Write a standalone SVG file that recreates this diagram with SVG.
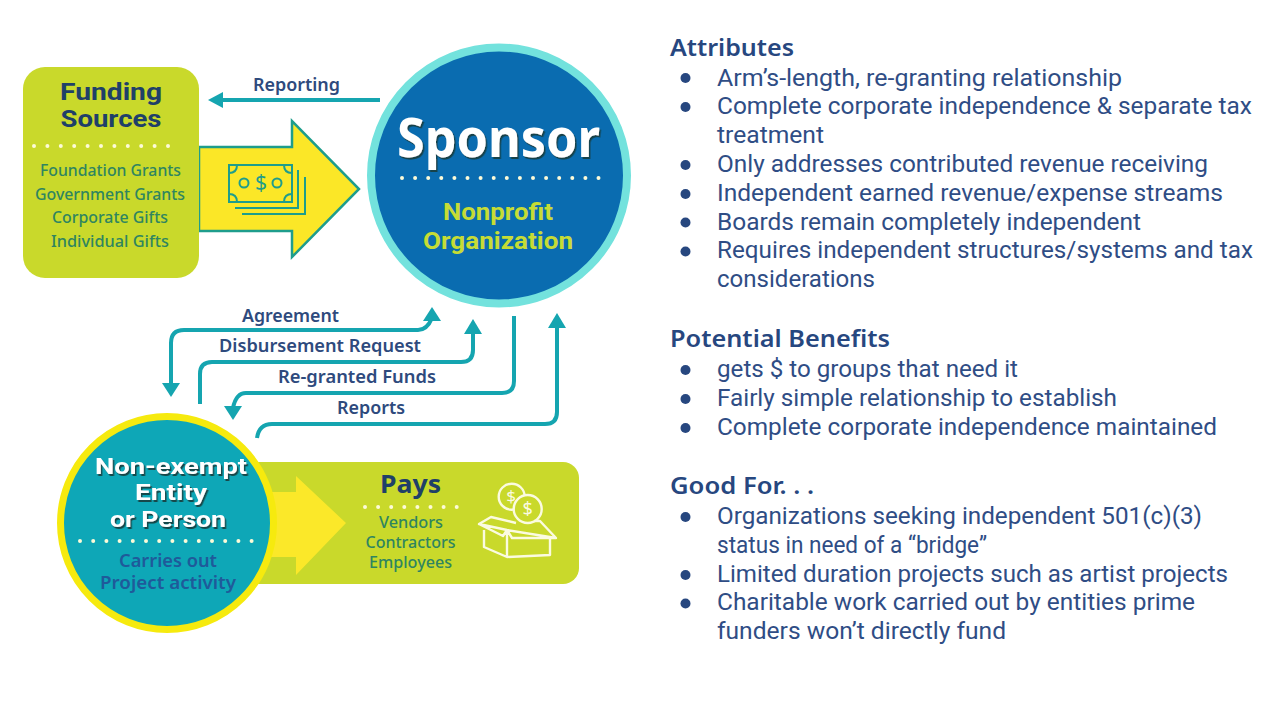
<svg xmlns="http://www.w3.org/2000/svg" width="1280" height="720" viewBox="0 0 1280 720">
<style>
text{font-family:"Noto Sans","Open Sans","Liberation Sans",sans-serif}
.m{text-anchor:middle}
.lb{font-size:18px;font-weight:600;fill:#2e4a7d}
.gr{font-size:15.5px;font-weight:500;fill:#2f8560}
.hd{font-weight:700;fill:#1f4068}
.tt{font-family:Roboto,"Liberation Sans",sans-serif}
.h{font-size:24px;font-weight:600;fill:#27477f}
.li{font-family:Roboto,"Liberation Sans",sans-serif;font-size:23.500px;fill:#2f4d85}
.bu{fill:#27477f}
.w{fill:#fff;font-weight:700;filter:url(#sh)}
.dots{fill:none;stroke:#fdfbd8;stroke-width:4;stroke-linecap:round}
.c{fill:none;stroke:#15a5b0;stroke-width:4;stroke-linejoin:round}
.ah{fill:#15a5b0}
.ic{fill:none;stroke:#1e9d8c;stroke-width:2}
.ib{fill:none;stroke:#fbfbe0;stroke-width:2.400;stroke-linejoin:round}
</style>
<defs>
<filter id="sh" x="-10%" y="-10%" width="120%" height="130%"><feDropShadow dx="1.5" dy="2" stdDeviation="0.5" flood-color="#123c3c" flood-opacity="0.9"/></filter>
</defs>
<rect width="1280" height="720" fill="#fff"/>

<g id="connectors">
<path class="c" d="M380 100H220"/><polygon class="ah" points="208,100 223,92 223,108"/>
<path class="c" d="M171 385V343Q171 330 184 330H418Q427 330 432 318"/><polygon class="ah" points="432,307 441,321 423,321"/><polygon class="ah" points="171,397 162,383 180,383"/>
<path class="c" d="M200 404V374Q200 362 212 362H461Q473 362 473 350V332"/><polygon class="ah" points="473,319 482,334 464,334"/>
<path class="c" d="M514 316V381Q514 393 502 393H246Q236 393 233 408"/><polygon class="ah" points="233,420 224,406 242,406"/>
<path class="c" d="M257 438Q259 424 272 424H545Q557 424 557 412V326"/><polygon class="ah" points="557,313 566,328 548,328"/>
</g>

<g id="funding-arrow">
<polygon points="199,147 292,147 292,121 359,189 292,257 292,231 199,231" fill="#fbe727" stroke="#1e9d8c" stroke-width="2.500"/>
<rect class="ic" x="229" y="165" width="63" height="37"/>
<path class="ic" d="M229 173Q237 173 237 165M292 173Q284 173 284 165M229 194Q237 194 237 202M292 194Q284 194 284 202M298 170V208H235M305 177V214H242"/>
<circle class="ic" cx="244" cy="183" r="4.500"/><circle class="ic" cx="277" cy="183" r="4.500"/>
<text x="261" y="190" class="m" font-size="21" fill="#1e9d8c">$</text>
</g>

<g id="funding-sources">
<rect x="23" y="67" width="176" height="211" rx="22" fill="#c9d92b"/>
<text x="111" y="100" class="m hd tt" font-size="23" textLength="102" lengthAdjust="spacingAndGlyphs">Funding</text>
<text x="111" y="127" class="m hd tt" font-size="23" textLength="101" lengthAdjust="spacingAndGlyphs">Sources</text>
<path class="dots" stroke-dasharray="0 13.4" d="M34 146H181"/>
<text x="110.500" y="176" class="m gr" textLength="141" lengthAdjust="spacingAndGlyphs">Foundation Grants</text>
<text x="110" y="200" class="m gr" textLength="150" lengthAdjust="spacingAndGlyphs">Government Grants</text>
<text x="110" y="223" class="m gr" textLength="116" lengthAdjust="spacingAndGlyphs">Corporate Gifts</text>
<text x="110" y="247" class="m gr" textLength="118" lengthAdjust="spacingAndGlyphs">Individual Gifts</text>
</g>
<text x="296.500" y="91" class="m lb" textLength="87" lengthAdjust="spacingAndGlyphs">Reporting</text>

<g id="sponsor">
<circle cx="499" cy="175.500" r="128" fill="#0a6cb0" stroke="#73e2dd" stroke-width="8"/>
<text x="498.500" y="157" class="m w" font-size="54" textLength="203" lengthAdjust="spacingAndGlyphs">Sponsor</text>
<path class="dots" stroke-dasharray="0 13.1" d="M402 178H599"/>
<text x="498" y="220" class="m tt" font-size="24" font-weight="700" fill="#c6dc35" textLength="110" lengthAdjust="spacingAndGlyphs">Nonprofit</text>
<text x="498" y="249" class="m tt" font-size="24" font-weight="700" fill="#c6dc35" textLength="150" lengthAdjust="spacingAndGlyphs">Organization</text>
</g>

<g id="edge-labels">
<text x="290.500" y="322" class="m lb" textLength="97" lengthAdjust="spacingAndGlyphs">Agreement</text>
<text x="320" y="352" class="m lb" textLength="202" lengthAdjust="spacingAndGlyphs">Disbursement Request</text>
<text x="357" y="383" class="m lb" textLength="158" lengthAdjust="spacingAndGlyphs">Re-granted Funds</text>
<text x="371" y="414" class="m lb" textLength="68" lengthAdjust="spacingAndGlyphs">Reports</text>
</g>

<g id="pays">
<rect x="230" y="462" width="349" height="122" rx="16" fill="#c9d92b"/>
<polygon points="262,492 296,492 296,476 346,523 296,575 296,557 262,557" fill="#fbe829"/>
<text x="410.500" y="493" class="m hd" font-size="25" textLength="61" lengthAdjust="spacingAndGlyphs">Pays</text>
<path class="dots" stroke-dasharray="0 13.1" d="M365 507H457"/>
<text x="411" y="528" class="m gr" textLength="64" lengthAdjust="spacingAndGlyphs">Vendors</text>
<text x="410.500" y="548" class="m gr" textLength="90" lengthAdjust="spacingAndGlyphs">Contractors</text>
<text x="410.500" y="568" class="m gr" textLength="83" lengthAdjust="spacingAndGlyphs">Employees</text>
<circle class="ib" cx="511.700" cy="496.700" r="13"/>
<circle cx="527.700" cy="509" r="14" fill="#c9d92b" stroke="#fbfbe0" stroke-width="2.400"/>
<text x="511" y="502" class="m" font-size="17" fill="#fbfbe0">$</text>
<text x="527.700" y="515" class="m" font-size="18" fill="#fbfbe0">$</text>
<path class="ib" d="M484 530V547L507 557L550 555V538M507 530V557M507 530L479 524L491 517L516 523M479 524L503 536L507 530L512 538L556 538L540 521L534 521M507 530L556 538"/>
</g>

<g id="non-exempt">
<circle cx="167" cy="523" r="106.500" fill="#0ea7b7" stroke="#f6ea0e" stroke-width="7"/>
<text x="171" y="474" class="m w tt" font-size="22" textLength="152" lengthAdjust="spacingAndGlyphs">Non-exempt</text>
<text x="171" y="500" class="m w tt" font-size="22" textLength="72" lengthAdjust="spacingAndGlyphs">Entity</text>
<text x="168" y="527" class="m w tt" font-size="22" textLength="116" lengthAdjust="spacingAndGlyphs">or Person</text>
<path class="dots" stroke-dasharray="0 13.2" d="M80 541H252"/>
<text x="168" y="567" class="m" font-size="18" font-weight="600" fill="#1f5a9a" textLength="98" lengthAdjust="spacingAndGlyphs">Carries out</text>
<text x="168" y="589" class="m" font-size="18" font-weight="600" fill="#1f5a9a" textLength="136" lengthAdjust="spacingAndGlyphs">Project activity</text>
</g>

<g id="text-panel">
<text x="670" y="56" class="h" textLength="124" lengthAdjust="spacingAndGlyphs">Attributes</text>
<circle class="bu" cx="685.500" cy="78" r="5"/><text x="717" y="85.500" class="li" textLength="405" lengthAdjust="spacingAndGlyphs">Arm’s-length, re-granting relationship</text>
<circle class="bu" cx="685.500" cy="107" r="5"/><text x="717" y="114.300" class="li" textLength="535" lengthAdjust="spacingAndGlyphs">Complete corporate independence &amp; separate tax</text>
<text x="717" y="143.100" class="li" textLength="107" lengthAdjust="spacingAndGlyphs">treatment</text>
<circle class="bu" cx="685.500" cy="165" r="5"/><text x="717" y="171.900" class="li" textLength="491" lengthAdjust="spacingAndGlyphs">Only addresses contributed revenue receiving</text>
<circle class="bu" cx="685.500" cy="194" r="5"/><text x="717" y="200.700" class="li" textLength="506" lengthAdjust="spacingAndGlyphs">Independent earned revenue/expense streams</text>
<circle class="bu" cx="685.500" cy="222.500" r="5"/><text x="717" y="229.500" class="li" textLength="424" lengthAdjust="spacingAndGlyphs">Boards remain completely independent</text>
<circle class="bu" cx="685.500" cy="251.500" r="5"/><text x="717" y="258.300" class="li" textLength="536" lengthAdjust="spacingAndGlyphs">Requires independent structures/systems and tax</text>
<text x="717" y="287.100" class="li" textLength="158" lengthAdjust="spacingAndGlyphs">considerations</text>
<text x="670" y="347" class="h" textLength="220" lengthAdjust="spacingAndGlyphs">Potential Benefits</text>
<circle class="bu" cx="685.500" cy="370" r="5"/><text x="717" y="377.200" class="li" textLength="301" lengthAdjust="spacingAndGlyphs">gets $ to groups that need it</text>
<circle class="bu" cx="685.500" cy="399" r="5"/><text x="717" y="406" class="li" textLength="400" lengthAdjust="spacingAndGlyphs">Fairly simple relationship to establish</text>
<circle class="bu" cx="685.500" cy="428" r="5"/><text x="717" y="434.800" class="li" textLength="500" lengthAdjust="spacingAndGlyphs">Complete corporate independence maintained</text>
<text x="670" y="494" class="h" textLength="144" lengthAdjust="spacingAndGlyphs">Good For. . .</text>
<circle class="bu" cx="685.500" cy="517" r="5"/><text x="717" y="524" class="li" textLength="485" lengthAdjust="spacingAndGlyphs">Organizations seeking independent 501(c)(3)</text>
<text x="717" y="552.800" class="li" textLength="270" lengthAdjust="spacingAndGlyphs">status in need of a “bridge”</text>
<circle class="bu" cx="685.500" cy="575" r="5"/><text x="717" y="581.600" class="li" textLength="511" lengthAdjust="spacingAndGlyphs">Limited duration projects such as artist projects</text>
<circle class="bu" cx="685.500" cy="603.500" r="5"/><text x="717" y="610.400" class="li" textLength="478" lengthAdjust="spacingAndGlyphs">Charitable work carried out by entities prime</text>
<text x="717" y="639.200" class="li" textLength="289" lengthAdjust="spacingAndGlyphs">funders won’t directly fund</text>
</g>
</svg>
